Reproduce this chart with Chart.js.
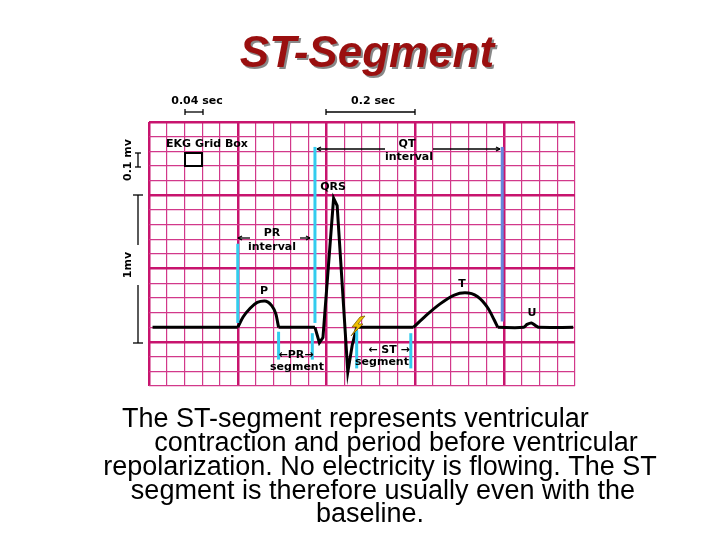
<!DOCTYPE html>
<html><head><meta charset="utf-8">
<script src="https://cdn.jsdelivr.net/npm/chart.js@4"></script>
<style>html,body{margin:0;padding:0;background:#fff}#w{width:728px;height:546px}</style>
</head><body><div id="w"><canvas id="c" width="728" height="546"></canvas></div>
<script>
// x in small boxes (0.04 s each), y in small boxes (0.1 mV each)
const baseA = [[0.2,4],[5,4]];
const pWave = [[5,4],[5.3,4.7],[5.7,5.3],[6.1,5.7],[6.5,5.8],[6.9,5.5],[7.15,4.9],[7.3,4]];
const prSeg = [[7.3,4],[9.35,4]];
const qrs = [[9.35,4],[9.6,2.95],[9.8,3.3],[10.4,12.8],[10.6,12.3],[11.2,0.95],[11.45,2.8],[11.7,4]];
const stSeg = [[11.7,4],[14.9,4]];
const tWave = [[14.9,4],[15.6,4.8],[16.4,5.6],[17.2,6.2],[17.8,6.35],[18.5,6.1],[19.1,5.3],[19.45,4.5],[19.65,4]];
const uWave = [[19.65,4],[21.1,4],[21.3,4.2],[21.55,4.3],[21.8,4.1],[21.95,4],[23.9,4]];
const cyanLines = [
  [[5,4.3],[5,9.7]],[[9.35,4.3],[9.35,16.3]],[[19.9,4.4],[19.9,16.3]],
  [[7.3,1.8],[7.3,3.7]],[[9.2,1.8],[9.2,3.6]],[[11.7,1.2],[11.7,3.8]],[[14.75,1.2],[14.75,3.6]]
];
const cyanColors = ['#33ccee','#33ccee','#6688dd','#33ccee','#33ccee','#33ccee','#33ccee'];
const bodyLines = ["The ST-segment represents ventricular","contraction and period before ventricular","repolarization. No electricity is flowing. The ST","segment is therefore usually even with the","baseline."];

const pts = a => a.map(p => ({x:p[0], y:p[1]}));
const datasets = [];
cyanLines.forEach((l,i)=>datasets.push({data:pts(l),borderColor:cyanColors[i],borderWidth:3,pointRadius:0,tension:0}));
[baseA,prSeg,stSeg,uWave].forEach(s=>datasets.push({data:pts(s),borderColor:'#000',borderWidth:3,pointRadius:0,tension:0.3}));
[pWave,tWave].forEach(s=>datasets.push({data:pts(s),borderColor:'#000',borderWidth:3,pointRadius:0,tension:0.4,cubicInterpolationMode:'monotone'}));
datasets.push({data:pts(qrs),borderColor:'#000',borderWidth:3,pointRadius:0,tension:0});

const deco = {
  id:'deco',
  afterDraw(ch){
    const c = ch.ctx; c.save();
    c.font = 'italic bold 44px "Liberation Sans"'; c.textAlign='center'; c.textBaseline='alphabetic';
    c.fillStyle='#888'; c.fillText('ST-Segment',369,69);
    c.fillStyle='#9a0f0f'; c.fillText('ST-Segment',367,67);
    c.font='27px "Liberation Sans"'; c.fillStyle='#000';
    c.textAlign='left'; c.fillText(bodyLines[0],122,427);
    c.textAlign='center';
    c.fillText(bodyLines[1],396,451); c.fillText(bodyLines[2],380,475);
    c.fillText(bodyLines[3],383,499); c.fillText(bodyLines[4],370,522);
    c.font='bold 11px "DejaVu Sans"'; c.textAlign='center'; c.textBaseline='middle';
    const T=(s,x,y)=>c.fillText(s,x,y);
    T('0.04 sec',197,101); T('0.2 sec',373,101);
    T('EKG Grid Box',207,144); T('QT',407,144); T('interval',409,157);
    T('QRS',333,187); T('PR',272,233); T('interval',272,247);
    T('P',264,291); T('T',462,284); T('U',532,313);
    T('←PR→',296,355); T('segment',297,367);
    T('← ST →',389,350); T('segment',382,362);
    c.strokeStyle='#000'; c.lineWidth=1.3;
    const L=(a,b,d,e)=>{c.beginPath();c.moveTo(a,b);c.lineTo(d,e);c.stroke();};
    L(185,112,203,112); L(185,109,185,115); L(203,109,203,115);
    L(326,112,415,112); L(326,109,326,115); L(415,109,415,115);
    L(317,149,385,149); L(433,149,500,149);
    L(317,149,321,147); L(317,149,321,151); L(500,149,496,147); L(500,149,496,151);
    L(238,238,250,238); L(238,238,242,236); L(238,238,242,240);
    L(300,238,310,238); L(310,238,306,236); L(310,238,306,240);
    c.lineWidth=2; c.strokeRect(185,153,17,13);
    c.lineWidth=1.3;
    L(138,153,138,167); L(135,153,141,153); L(135,167,141,167);
    L(138,195,138,245); L(138,285,138,343); L(133,195,143,195); L(133,343,143,343);
    c.save(); c.translate(128,160); c.rotate(-Math.PI/2); T('0.1 mv',0,0); c.restore();
    c.save(); c.translate(128,265); c.rotate(-Math.PI/2); T('1mv',0,0); c.restore();
    c.fillStyle='#f0c000'; c.strokeStyle='#806000'; c.lineWidth=0.8;
    c.beginPath(); c.moveTo(360,317); c.lineTo(352,327); c.lineTo(357,327); c.lineTo(351,336);
    c.lineTo(363,324); c.lineTo(358,324); c.lineTo(365,316); c.closePath(); c.fill(); c.stroke();
    c.restore();
  }
};
const thick = (v,off) => ((Math.round(v)-off)%5===0);
const tk = {display:false,stepSize:1,autoSkip:false,maxTicksLimit:1000};
new Chart(document.getElementById('c'),{
  type:'line',
  data:{datasets},
  options:{
    responsive:false,animation:false,
    layout:{padding:{left:149,right:153,top:122,bottom:160}},
    plugins:{legend:{display:false},tooltip:{enabled:false}},
    scales:{
      x:{type:'linear',min:0,max:24,ticks:tk,border:{display:false},
         grid:{color:ctx=>ctx.tick&&thick(ctx.tick.value,0)?'#c8146e':'#d2388a',
               lineWidth:ctx=>ctx.tick&&thick(ctx.tick.value,0)?2.5:1.2,drawTicks:false}},
      y:{type:'linear',min:0,max:18,ticks:tk,border:{display:false},
         grid:{color:ctx=>ctx.tick&&thick(ctx.tick.value,3)?'#c8146e':'#d2388a',
               lineWidth:ctx=>ctx.tick&&thick(ctx.tick.value,3)?2.5:1.2,drawTicks:false}}
    }
  },
  plugins:[deco]
});
</script></body></html>
